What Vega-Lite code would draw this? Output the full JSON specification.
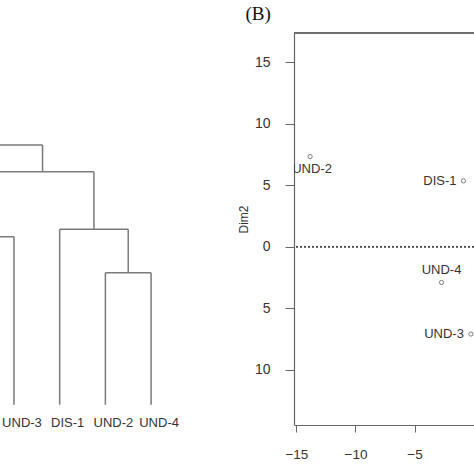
{
  "$schema": "https://vega.github.io/schema/vega-lite/v6.json",
  "padding": {"top": 5, "left": 0, "right": 0, "bottom": 0},
  "autosize": {"type": "pad"},
  "spacing": 17,
  "config": {"view": {"stroke": null}, "font": "Liberation Sans"},
  "datasets": {
    "dendro": [
      {"x": 1, "x2": 1, "h": 0, "h2": 16.8},
      {"x": 2, "x2": 2, "h": 0, "h2": 16.8},
      {"x": 3, "x2": 3, "h": 0, "h2": 17.54},
      {"x": 4, "x2": 4, "h": 0, "h2": 13.2},
      {"x": 5, "x2": 5, "h": 0, "h2": 13.2},
      {"x": 1, "x2": 2, "h": 16.8, "h2": 16.8},
      {"x": 4, "x2": 5, "h": 13.2, "h2": 13.2},
      {"x": 3, "x2": 4.5, "h": 17.54, "h2": 17.54},
      {"x": 4.5, "x2": 4.5, "h": 13.2, "h2": 17.54},
      {"x": 1.5, "x2": 3.75, "h": 23.3, "h2": 23.3},
      {"x": 1.5, "x2": 1.5, "h": 16.8, "h2": 23.3},
      {"x": 3.75, "x2": 3.75, "h": 17.54, "h2": 23.3},
      {"x": -1, "x2": 2.625, "h": 25.97, "h2": 25.97},
      {"x": 2.625, "x2": 2.625, "h": 23.3, "h2": 25.97}
    ],
    "leaves": [
      {"leaf": "UND-3", "pos": 2},
      {"leaf": "DIS-1", "pos": 3},
      {"leaf": "UND-2", "pos": 4},
      {"leaf": "UND-4", "pos": 5}
    ],
    "points": [
      {"label": "UND-2", "Dim1": -13.84, "Dim2": 7.34},
      {"label": "DIS-1", "Dim1": -0.86, "Dim2": 5.37},
      {"label": "UND-4", "Dim1": -2.72, "Dim2": -2.9},
      {"label": "UND-3", "Dim1": -0.23, "Dim2": -7.1}
    ]
  },
  "hconcat": [
    {
      "width": 220,
      "height": 392,
      "layer": [
        {
          "data": {"name": "dendro"},
          "mark": {"type": "rule", "clip": true, "color": "#7a7a7a", "strokeWidth": 1.5},
          "encoding": {
            "x": {"field": "x", "type": "quantitative", "scale": {"domain": [1.694, 6.508], "nice": false, "zero": false}, "axis": null},
            "x2": {"field": "x2"},
            "y": {"field": "h", "type": "quantitative", "scale": {"domain": [-2.03, 37.17], "nice": false, "zero": false}, "axis": null},
            "y2": {"field": "h2"}
          }
        },
        {
          "data": {"name": "leaves"},
          "mark": {"type": "text", "dx": 8, "dy": 18, "fontSize": 13, "color": "#333", "baseline": "middle"},
          "encoding": {
            "x": {"field": "pos", "type": "quantitative"},
            "y": {"datum": 0, "type": "quantitative"},
            "text": {"field": "leaf"}
          }
        }
      ]
    },
    {
      "width": 180,
      "height": 392,
      "title": {"text": "(B)", "anchor": "start", "frame": "bounds", "font": "Liberation Serif", "fontSize": 19, "fontWeight": "normal", "color": "#111", "offset": 8, "dx": 8},
      "data": {"name": "points"},
      "layer": [
        {
          "mark": {"type": "rule", "color": "#666", "strokeWidth": 1.2},
          "encoding": {"y": {"datum": 17.4, "type": "quantitative"}}
        },
        {
          "mark": {"type": "rule", "color": "#444", "strokeDash": [2, 2], "strokeWidth": 1},
          "encoding": {"y": {"datum": 0, "type": "quantitative"}}
        },
        {
          "mark": {"type": "point", "shape": "circle", "size": 18, "strokeWidth": 1, "color": "#444", "filled": false},
          "encoding": {
            "x": {"field": "Dim1", "type": "quantitative", "scale": {"domain": [-15.2, 0.03], "nice": false, "zero": false},
                  "axis": {"values": [-15, -10, -5], "title": null, "grid": false, "domainColor": "#666", "domainWidth": 1.2, "tickColor": "#666", "tickSize": 7, "labelFontSize": 13.5, "labelColor": "#333", "labelPadding": 15}},
            "y": {"field": "Dim2", "type": "quantitative", "scale": {"domain": [-14.5, 17.4], "nice": false, "zero": false},
                  "axis": {"values": [-10, -5, 0, 5, 10, 15], "labelExpr": "format(abs(datum.value), 'd')", "title": "Dim2", "grid": false, "domainColor": "#666", "domainWidth": 1.2, "tickColor": "#666", "tickSize": 9, "labelFontSize": 14, "labelColor": "#333", "labelPadding": 15, "titleFontSize": 12, "titleFontWeight": "normal", "titleColor": "#333", "titlePadding": 4, "titleY": 186}}
          }
        },
        {
          "transform": [{"filter": "datum.label == 'DIS-1' || datum.label == 'UND-3'"}],
          "mark": {"type": "text", "align": "right", "baseline": "middle", "dx": -7, "fontSize": 13, "color": "#333", "clip": true},
          "encoding": {"x": {"field": "Dim1", "type": "quantitative"}, "y": {"field": "Dim2", "type": "quantitative"}, "text": {"field": "label"}}
        },
        {
          "transform": [{"filter": "datum.label == 'UND-4'"}],
          "mark": {"type": "text", "align": "center", "baseline": "middle", "dy": -12, "fontSize": 13, "color": "#333", "clip": true},
          "encoding": {"x": {"field": "Dim1", "type": "quantitative"}, "y": {"field": "Dim2", "type": "quantitative"}, "text": {"field": "label"}}
        },
        {
          "transform": [{"filter": "datum.label == 'UND-2'"}],
          "mark": {"type": "text", "align": "center", "baseline": "middle", "dy": 12, "dx": 2, "fontSize": 13, "color": "#333", "clip": true},
          "encoding": {"x": {"field": "Dim1", "type": "quantitative"}, "y": {"field": "Dim2", "type": "quantitative"}, "text": {"field": "label"}}
        }
      ]
    }
  ]
}
